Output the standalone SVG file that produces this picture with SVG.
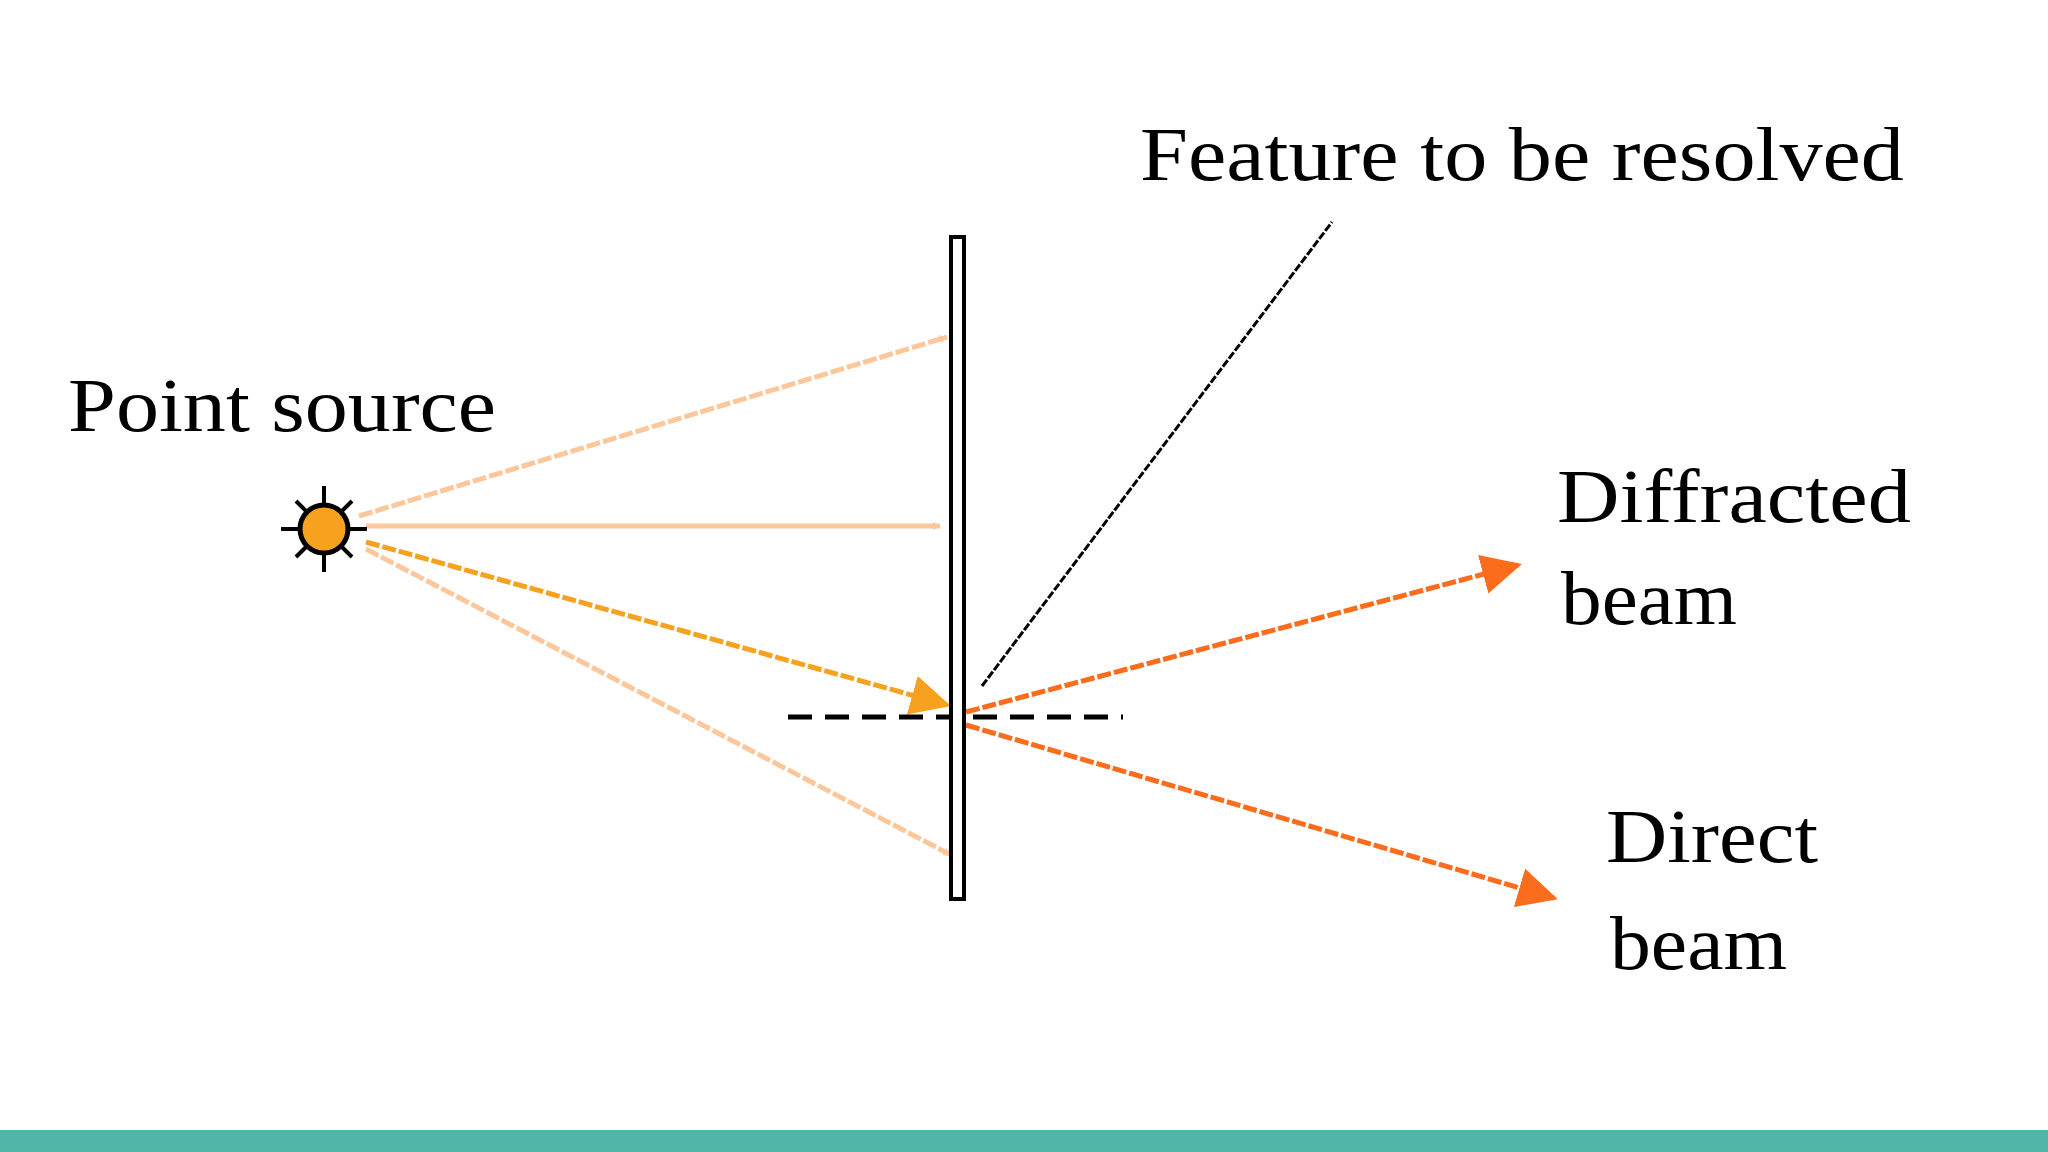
<svg xmlns="http://www.w3.org/2000/svg" width="2048" height="1152" viewBox="0 0 2048 1152">
<style>
text{font-family:"Liberation Serif",serif;font-size:76px;fill:#000}
.ray{stroke-width:5;fill:none}
</style>
<defs>
<marker id="aL" viewBox="0 0 10 10" refX="9" refY="5" markerWidth="8" markerHeight="8" markerUnits="userSpaceOnUse" orient="auto"><path d="M0,0L10,5L0,10z" fill="#fcc79b"/></marker>
<marker id="aO" viewBox="0 0 10 10" refX="9" refY="5" markerWidth="8" markerHeight="8" orient="auto"><path d="M0,0L10,5L0,10z" fill="#f6a21e"/></marker>
<marker id="aR" viewBox="0 0 10 10" refX="9" refY="5" markerWidth="8" markerHeight="8" orient="auto"><path d="M0,0L10,5L0,10z" fill="#fb6c1c"/></marker>
</defs>
<rect width="2048" height="1152" fill="#fff"/>
<rect x="0" y="1130" width="2048" height="22" fill="#4fb6a8"/>
<g id="connectors">
<line class="ray" x1="359" y1="516" x2="947" y2="337" stroke="#fcc79b" stroke-dasharray="14 3" marker-end="url(#aL)"/>
<line class="ray" x1="366" y1="526" x2="940" y2="526" stroke="#fcc79b" marker-end="url(#aL)"/>
<line class="ray" x1="366" y1="542" x2="947" y2="705" stroke="#f6a21e" stroke-dasharray="14 3" marker-end="url(#aO)"/>
<line class="ray" x1="366" y1="549" x2="951" y2="855" stroke="#fcc79b" stroke-dasharray="14 3" marker-end="url(#aL)"/>
<line class="ray" x1="966" y1="712" x2="1518" y2="565" stroke="#fb6c1c" stroke-dasharray="14 3" marker-end="url(#aR)"/>
<line class="ray" x1="966" y1="725" x2="1554" y2="898" stroke="#fb6c1c" stroke-dasharray="14 3" marker-end="url(#aR)"/>
<line x1="982" y1="686" x2="1332" y2="222" stroke="#000" stroke-width="3" stroke-dasharray="8 2"/>
<line x1="788" y1="717" x2="1123" y2="717" stroke="#000" stroke-width="5" stroke-dasharray="24 13"/>
</g>
<g id="screen"><rect x="951" y="237" width="13" height="662" fill="#fff" stroke="#000" stroke-width="4"/></g>
<g id="source">
<g stroke="#000" stroke-width="4">
<line x1="324" y1="486" x2="324" y2="572"/><line x1="281" y1="529" x2="367" y2="529"/>
<line x1="296" y1="501" x2="352" y2="557"/><line x1="352" y1="501" x2="296" y2="557"/>
</g>
<circle cx="324" cy="529" r="24" fill="#f6a21e" stroke="#000" stroke-width="5"/>
</g>
<g id="labels">
<text x="1140" y="180" textLength="764" lengthAdjust="spacingAndGlyphs">Feature to be resolved</text>
<text x="68" y="431" textLength="428" lengthAdjust="spacingAndGlyphs">Point source</text>
<text x="1557" y="522" textLength="354" lengthAdjust="spacingAndGlyphs">Diffracted</text>
<text x="1561" y="624" textLength="176" lengthAdjust="spacingAndGlyphs">beam</text>
<text x="1606" y="862" textLength="212" lengthAdjust="spacingAndGlyphs">Direct</text>
<text x="1610" y="969" textLength="177" lengthAdjust="spacingAndGlyphs">beam</text>
</g>
</svg>
